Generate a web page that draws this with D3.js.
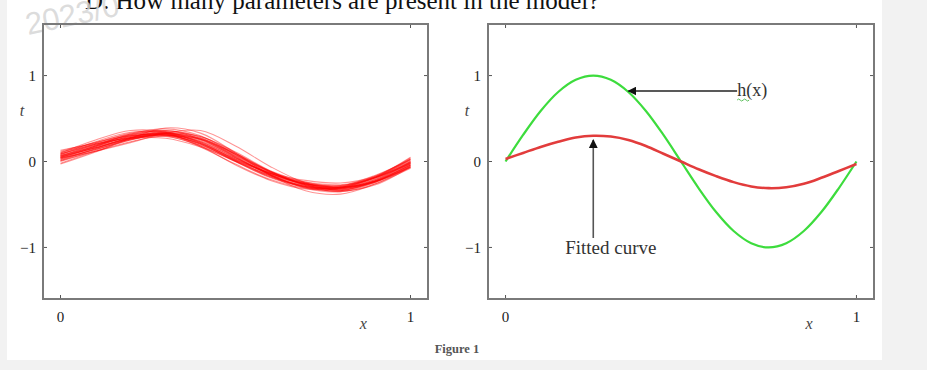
<!DOCTYPE html>
<html>
<head>
<meta charset="utf-8">
<script src="https://cdn.jsdelivr.net/npm/d3@7"></script>
<style>
  body { margin: 0; background: #f2f2f2; }
  svg text { font-family: "Liberation Serif", "DejaVu Serif", serif; }
</style>
</head>
<body>
<div id="figure"></div>
<script>
// ---- Data ----
// left panel: sample points of each fitted curve
const sampleX = [0, 0.1, 0.2, 0.3, 0.4, 0.5, 0.6, 0.7, 0.8, 0.9, 1.0];
const fitCurves = [
    [0.06, 0.18, 0.29, 0.33, 0.23, 0.04, -0.14, -0.26, -0.29, -0.19, -0.01],
    [0.02, 0.15, 0.27, 0.33, 0.25, 0.06, -0.13, -0.27, -0.32, -0.22, -0.04],
    [0.09, 0.20, 0.30, 0.31, 0.20, 0.01, -0.17, -0.28, -0.30, -0.18, 0.01],
    [0.04, 0.14, 0.25, 0.32, 0.27, 0.09, -0.12, -0.27, -0.33, -0.24, -0.05],
    [0.10, 0.22, 0.32, 0.34, 0.21, 0.00, -0.19, -0.30, -0.31, -0.19, 0.02],
    [0.00, 0.13, 0.26, 0.31, 0.24, 0.05, -0.15, -0.29, -0.33, -0.23, -0.06],
    [0.07, 0.19, 0.31, 0.36, 0.26, 0.05, -0.16, -0.30, -0.34, -0.22, -0.01],
    [0.05, 0.16, 0.26, 0.30, 0.21, 0.03, -0.14, -0.25, -0.28, -0.19, -0.03],
    [0.12, 0.22, 0.30, 0.30, 0.18, 0.00, -0.16, -0.26, -0.28, -0.18, 0.03],
    [0.03, 0.17, 0.30, 0.36, 0.28, 0.08, -0.13, -0.28, -0.32, -0.21, -0.02],
    [0.06, 0.16, 0.27, 0.33, 0.26, 0.07, -0.12, -0.25, -0.30, -0.23, -0.07],
    [0.08, 0.21, 0.33, 0.35, 0.22, 0.01, -0.18, -0.29, -0.30, -0.17, 0.03],
    [-0.02, 0.12, 0.25, 0.33, 0.29, 0.11, -0.11, -0.28, -0.35, -0.26, -0.05],
    [0.05, 0.18, 0.29, 0.32, 0.22, 0.02, -0.17, -0.29, -0.31, -0.20, -0.01],
    [0.11, 0.20, 0.28, 0.29, 0.19, 0.02, -0.15, -0.26, -0.30, -0.22, -0.04],
    [0.04, 0.18, 0.32, 0.38, 0.30, 0.08, -0.15, -0.31, -0.35, -0.24, -0.03],
    [0.07, 0.17, 0.27, 0.31, 0.23, 0.04, -0.14, -0.26, -0.31, -0.21, 0.00],
    [0.01, 0.15, 0.28, 0.34, 0.27, 0.06, -0.16, -0.30, -0.34, -0.23, -0.02],
    [0.09, 0.19, 0.28, 0.31, 0.21, 0.03, -0.14, -0.24, -0.27, -0.18, -0.02],
    [0.05, 0.16, 0.28, 0.35, 0.29, 0.10, -0.12, -0.27, -0.32, -0.23, -0.06],
    [0.06, 0.20, 0.31, 0.32, 0.20, 0.00, -0.18, -0.29, -0.30, -0.19, 0.00],
    [0.03, 0.14, 0.26, 0.32, 0.26, 0.08, -0.12, -0.26, -0.31, -0.23, -0.04],
    [0.04, 0.12, 0.22, 0.33, 0.36, 0.18, -0.06, -0.25, -0.34, -0.27, -0.06],
    [0.08, 0.23, 0.34, 0.33, 0.17, -0.03, -0.21, -0.31, -0.29, -0.16, 0.02],
    [0.13, 0.21, 0.27, 0.27, 0.17, 0.01, -0.13, -0.22, -0.25, -0.17, 0.05],
    [-0.03, 0.11, 0.27, 0.39, 0.33, 0.10, -0.16, -0.34, -0.38, -0.26, -0.08],
    [0.10, 0.25, 0.36, 0.34, 0.18, -0.04, -0.22, -0.32, -0.31, -0.18, 0.04],
    [0.01, 0.12, 0.23, 0.30, 0.26, 0.09, -0.11, -0.24, -0.30, -0.24, -0.07]
];

// right panel: true function h(x) and the averaged fit
const curveX = [0, 0.05, 0.1, 0.15, 0.2, 0.25, 0.3, 0.35, 0.4, 0.45, 0.5,
                0.55, 0.6, 0.65, 0.7, 0.75, 0.8, 0.85, 0.9, 0.95, 1.0];
const hValues = [0, 0.309, 0.588, 0.809, 0.951, 1, 0.951, 0.809, 0.588, 0.309, 0,
                 -0.309, -0.588, -0.809, -0.951, -1, -0.951, -0.809, -0.588, -0.309, 0];
const fittedValues = [0.03, 0.10, 0.17, 0.23, 0.28, 0.30, 0.29, 0.25, 0.18, 0.09, 0.0,
                      -0.09, -0.17, -0.24, -0.29, -0.31, -0.30, -0.26, -0.19, -0.11, -0.03];

const xTicks = [0, 1];
const yTicks = [1, 0, -1];

function createFigure() {
    const width = 927, height = 370;

    const svg = d3.select("#figure").append("svg")
        .attr("width", width)
        .attr("height", height)
        .style("display", "block");

    // page background (white sheet on grey)
    svg.append("rect")
        .attr("width", width).attr("height", height)
        .attr("fill", "#f2f2f2");
    svg.append("rect")
        .attr("x", 7).attr("y", 0)
        .attr("width", 875).attr("height", 360)
        .attr("fill", "#ffffff");

    // question text (the page is scrolled so its top is cut)
    svg.append("text")
        .attr("x", 85)
        .attr("y", 9)
        .style("font-size", "25px")
        .style("fill", "#111")
        .text("D.  How many parameters are present in the model?");

    // faint watermark, laid over the text
    svg.append("text")
        .attr("transform", "translate(28,35) rotate(-12)")
        .style("font-family", "'Liberation Sans', Arial, sans-serif")
        .style("font-size", "31px")
        .style("fill", "#d6d6d6")
        .style("fill-opacity", 0.85)
        .text("2023/0");

    // both panels share the same domains
    const xDomain = [-0.05, 1.05];
    const yDomain = [-1.6, 1.6];
    const top = 24, bottom = 299;

    function drawPanel(left, right) {
        const x = d3.scaleLinear().domain(xDomain).range([left, right]);
        const y = d3.scaleLinear().domain(yDomain).range([bottom, top]);
        const g = svg.append("g");

        // inward ticks on all four sides
        const tickLen = 4;
        xTicks.forEach(t => {
            g.append("line")
                .attr("x1", x(t)).attr("x2", x(t))
                .attr("y1", bottom).attr("y2", bottom - tickLen)
                .attr("stroke", "#555");
            g.append("line")
                .attr("x1", x(t)).attr("x2", x(t))
                .attr("y1", top).attr("y2", top + tickLen)
                .attr("stroke", "#555");
            g.append("text")
                .attr("x", x(t))
                .attr("y", bottom + 23)
                .attr("text-anchor", "middle")
                .style("font-size", "15px")
                .style("fill", "#222")
                .text(t);
        });
        yTicks.forEach(t => {
            g.append("line")
                .attr("x1", left).attr("x2", left + tickLen)
                .attr("y1", y(t)).attr("y2", y(t))
                .attr("stroke", "#555");
            g.append("line")
                .attr("x1", right).attr("x2", right - tickLen)
                .attr("y1", y(t)).attr("y2", y(t))
                .attr("stroke", "#555");
            g.append("text")
                .attr("x", left - 7)
                .attr("y", y(t))
                .attr("dy", "0.35em")
                .attr("text-anchor", "end")
                .style("font-size", "15px")
                .style("fill", "#222")
                .text(t < 0 ? "\u2212" + Math.abs(t) : t);
        });

        // axis labels
        g.append("text")
            .attr("x", x(0.865))
            .attr("y", bottom + 30)
            .attr("text-anchor", "middle")
            .style("font-size", "16px")
            .style("font-style", "italic")
            .style("fill", "#444")
            .text("x");
        g.append("text")
            .attr("x", left - 21)
            .attr("y", y(0.59))
            .attr("dy", "0.35em")
            .attr("text-anchor", "middle")
            .style("font-size", "16px")
            .style("font-style", "italic")
            .style("fill", "#444")
            .text("t");

        // frame
        g.append("rect")
            .attr("x", left).attr("y", top)
            .attr("width", right - left).attr("height", bottom - top)
            .attr("fill", "none")
            .attr("stroke", "#7a7a7a")
            .attr("stroke-width", 2);

        return { x, y, g };
    }

    // ---- Left panel: bundle of fits ----
    const leftPanel = drawPanel(43, 428);
    const leftLine = d3.line()
        .x((d, i) => leftPanel.x(sampleX[i]))
        .y(d => leftPanel.y(d))
        .curve(d3.curveCatmullRom.alpha(0.5));

    leftPanel.g.selectAll(".fit")
        .data(fitCurves)
        .enter().append("path")
        .attr("class", "fit")
        .attr("d", leftLine)
        .attr("fill", "none")
        .attr("stroke", "#ff0000")
        .attr("stroke-width", 1.1)
        .attr("stroke-opacity", 0.42);

    // ---- Right panel: h(x) and the fitted curve ----
    const rightPanel = drawPanel(488, 874);
    const rightLine = d3.line()
        .x((d, i) => rightPanel.x(curveX[i]))
        .y(d => rightPanel.y(d))
        .curve(d3.curveCatmullRom.alpha(0.5));

    rightPanel.g.append("path")
        .attr("d", rightLine(hValues))
        .attr("fill", "none")
        .attr("stroke", "#3ddc3d")
        .attr("stroke-width", 2.2);

    rightPanel.g.append("path")
        .attr("d", rightLine(fittedValues))
        .attr("fill", "none")
        .attr("stroke", "#e23c3c")
        .attr("stroke-width", 2.6);

    // arrow marker
    svg.append("defs").append("marker")
        .attr("id", "arrowhead")
        .attr("viewBox", "0 0 10 10")
        .attr("refX", 9).attr("refY", 5)
        .attr("markerWidth", 9).attr("markerHeight", 9)
        .attr("markerUnits", "userSpaceOnUse")
        .attr("orient", "auto")
        .append("path")
        .attr("d", "M0,0 L10,5 L0,10 z")
        .attr("fill", "#111");

    const rx = rightPanel.x, ry = rightPanel.y;

    // h(x) annotation
    rightPanel.g.append("line")
        .attr("x1", rx(0.66)).attr("x2", rx(0.35))
        .attr("y1", ry(0.82)).attr("y2", ry(0.82))
        .attr("stroke", "#222")
        .attr("stroke-width", 1.4)
        .attr("marker-end", "url(#arrowhead)");
    rightPanel.g.append("text")
        .attr("x", rx(0.66))
        .attr("y", ry(0.82))
        .attr("dy", "0.3em")
        .style("font-size", "18px")
        .style("fill", "#333")
        .text("h(x)");
    // spell-check squiggle under the "h"
    const sqX = rx(0.66), sqY = ry(0.82) + 9;
    rightPanel.g.append("path")
        .attr("d", `M${sqX},${sqY} q1.5,-2 3,0 t3,0 t3,0 t3,0`)
        .attr("fill", "none")
        .attr("stroke", "#5cbf5c")
        .attr("stroke-width", 1);

    // fitted curve annotation
    rightPanel.g.append("line")
        .attr("x1", rx(0.25)).attr("x2", rx(0.25))
        .attr("y1", ry(-0.89)).attr("y2", ry(0.25))
        .attr("stroke", "#555")
        .attr("stroke-width", 1.6)
        .attr("marker-end", "url(#arrowhead)");
    rightPanel.g.append("text")
        .attr("x", rx(0.17))
        .attr("y", ry(-1.0))
        .attr("dy", "0.35em")
        .style("font-size", "19px")
        .style("fill", "#333")
        .text("Fitted curve");

    // figure caption
    svg.append("text")
        .attr("x", 457)
        .attr("y", 353)
        .attr("text-anchor", "middle")
        .style("font-size", "12.5px")
        .style("font-weight", "bold")
        .style("fill", "#555")
        .text("Figure 1");
}

createFigure();
</script>
</body>
</html>
